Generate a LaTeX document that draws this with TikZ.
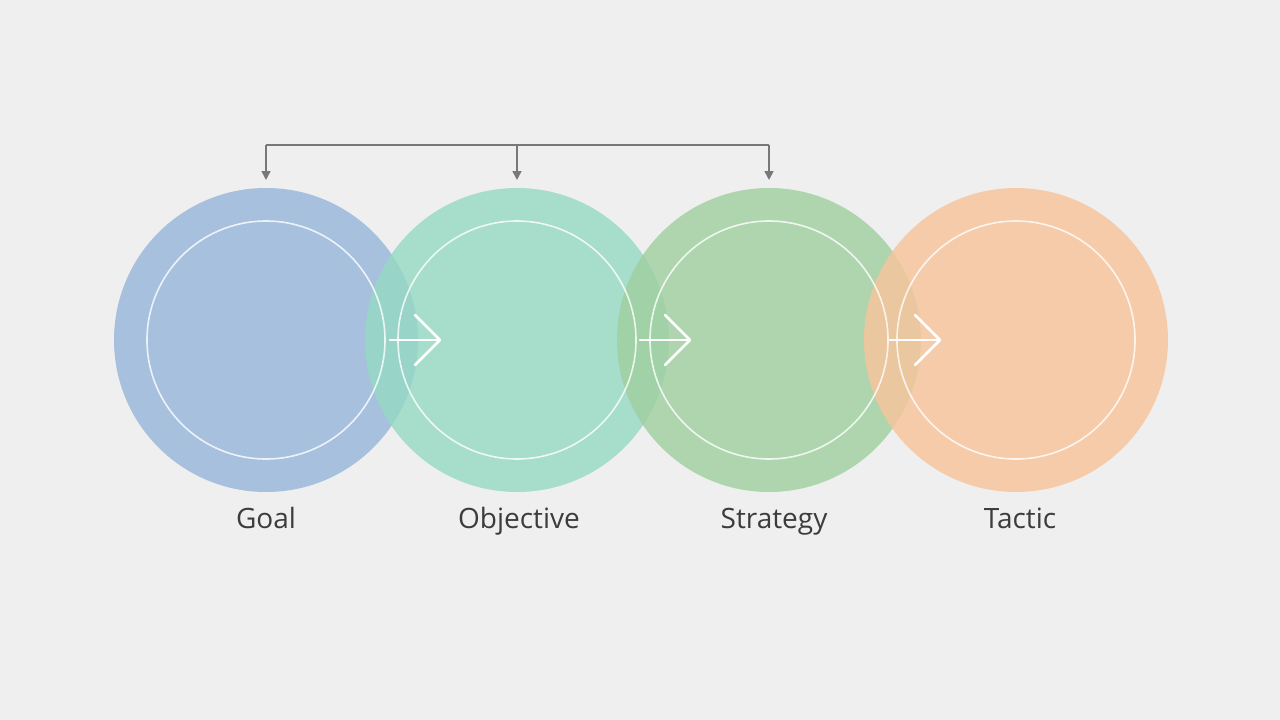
\documentclass[tikz,border=0pt]{standalone}
\usepackage{fontspec}
\setmainfont{Open Sans}
\usetikzlibrary{arrows.meta}
\definecolor{bg}{RGB}{239,239,239}
\definecolor{cA}{RGB}{150,182,218}
\definecolor{cB}{RGB}{150,218,196}
\definecolor{cC}{RGB}{160,208,160}
\definecolor{cD}{RGB}{248,196,155}
\definecolor{ln}{RGB}{120,120,120}
\definecolor{tx}{RGB}{60,60,60}
\tikzset{
 disc/.style={circle,minimum size=304pt,inner sep=0pt,fill opacity=0.82,draw=none},
 ring/.style={draw=white,line width=1.6pt,draw opacity=0.8},
 lbl/.style={font=\fontsize{28}{34}\selectfont,text=tx,anchor=base},
 chev/.style={draw=white,line width=2.5pt,line cap=round,line join=round},
 brk/.style={draw=ln,line width=1.6pt,-{Triangle[length=9pt,width=9pt]}}
}
\begin{document}
\begin{tikzpicture}[x=1pt,y=-1pt]
\fill[bg] (0,0) rectangle (1280,720);
\useasboundingbox (0,0) rectangle (1280,720);
\node[disc,fill=cA] (g) at (266,340) {};
\node[disc,fill=cB] (o) at (517,340) {};
\node[disc,fill=cC] (s) at (769,340) {};
\node[disc,fill=cD] (t) at (1016,340) {};
\foreach \n in {g,o,s,t}{\draw[ring] (\n) circle (119);}
\foreach \x in {390,640,890}{
 \draw[chev] (\x,340) -- (\x+50,340);
 \draw[chev] (\x+25,315) -- (\x+50,340) -- (\x+25,365);
}
\coordinate (bg1) at (266,145);
\coordinate (bo1) at (517,145);
\coordinate (bs1) at (769,145);
\draw[ln,line width=1.6pt] (bg1) -- (bs1);
\draw[brk] (bg1) -- (266,180);
\draw[brk] (bo1) -- (517,180);
\draw[brk] (bs1) -- (769,180);
\node[lbl] (lg) at (266,528) {Goal};
\node[lbl] (lo) at (519,528) {Objective};
\node[lbl] (ls) at (774,528) {Strategy};
\node[lbl] (lt) at (1020,528) {Tactic};
\end{tikzpicture}
\end{document}
